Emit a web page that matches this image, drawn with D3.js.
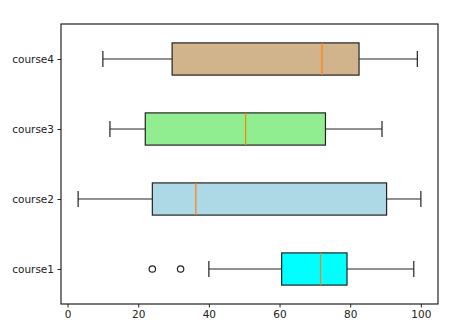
<!DOCTYPE html>
<html>
<head>
<meta charset="utf-8">
<script src="https://cdn.jsdelivr.net/npm/d3@7"></script>
<style>
  body { margin: 0; background: #fff; }
  text { font-family: "DejaVu Sans", sans-serif; }
</style>
</head>
<body>
<div id="wrapper"></div>
<script>
// data
const courses = ["course1", "course2", "course3", "course4"]
const whiskerLow = [40, 3, 12, 10]
const q1 = [60.6, 24, 22, 29.6]
const median = [71.6, 36.3, 50.4, 72]
const q3 = [79.1, 90.3, 73, 82.5]
const whiskerHigh = [98, 100, 89, 99]
const outliers = [[24, 32], [], [], []]
const boxColors = ["#00ffff", "#add8e6", "#90ee90", "#d2b48c"]
const xTicks = [0, 20, 40, 60, 80, 100]

const dataset = courses.map((name, i) => ({
  name,
  lo: whiskerLow[i],
  q1: q1[i],
  med: median[i],
  q3: q3[i],
  hi: whiskerHigh[i],
  fliers: outliers[i],
  color: boxColors[i],
}))

const dimensions = {
  width: 474,
  height: 336,
  margin: { top: 24, right: 36, bottom: 32, left: 61 },
}
dimensions.boundedWidth =
  dimensions.width - dimensions.margin.left - dimensions.margin.right
dimensions.boundedHeight =
  dimensions.height - dimensions.margin.top - dimensions.margin.bottom

const wrapper = d3
  .select("#wrapper")
  .append("svg")
  .attr("width", dimensions.width)
  .attr("height", dimensions.height)
const bounds = wrapper
  .append("g")
  .attr("transform", `translate(${dimensions.margin.left},${dimensions.margin.top})`)

// scales
const xScale = d3
  .scaleLinear()
  .domain([-1.85, 104.85])
  .range([0, dimensions.boundedWidth])
const yScale = d3
  .scaleLinear()
  .domain([0.5, 4.5])
  .range([dimensions.boundedHeight, 0])
const yPos = d => yScale(courses.indexOf(d.name) + 1)
const boxH = yScale(0) - yScale(0.46)

// boxes
const stroke = "#222"
const lw = 1.2
const groups = bounds
  .selectAll("g.box")
  .data(dataset)
  .join("g")
  .attr("class", "box")

groups
  .append("line")
  .attr("x1", d => xScale(d.lo))
  .attr("x2", d => xScale(d.q1))
  .attr("y1", yPos)
  .attr("y2", yPos)
  .attr("stroke", stroke)
  .attr("stroke-width", lw)
groups
  .append("line")
  .attr("x1", d => xScale(d.q3))
  .attr("x2", d => xScale(d.hi))
  .attr("y1", yPos)
  .attr("y2", yPos)
  .attr("stroke", stroke)
  .attr("stroke-width", lw)
// caps
groups
  .selectAll("line.cap")
  .data(d => [d.lo, d.hi].map(v => ({ v, y: yPos(d) })))
  .join("line")
  .attr("class", "cap")
  .attr("x1", d => xScale(d.v))
  .attr("x2", d => xScale(d.v))
  .attr("y1", d => d.y - boxH / 4)
  .attr("y2", d => d.y + boxH / 4)
  .attr("stroke", stroke)
  .attr("stroke-width", lw)

groups
  .append("rect")
  .attr("x", d => xScale(d.q1))
  .attr("width", d => xScale(d.q3) - xScale(d.q1))
  .attr("y", d => yPos(d) - boxH / 2)
  .attr("height", boxH)
  .attr("fill", d => d.color)
  .attr("stroke", stroke)
  .attr("stroke-width", lw)

groups
  .append("line")
  .attr("x1", d => xScale(d.med))
  .attr("x2", d => xScale(d.med))
  .attr("y1", d => yPos(d) - boxH / 2)
  .attr("y2", d => yPos(d) + boxH / 2)
  .attr("stroke", "#ff7f0e")
  .attr("stroke-width", lw)

groups
  .selectAll("circle")
  .data(d => d.fliers.map(v => ({ v, y: yPos(d) })))
  .join("circle")
  .attr("cx", d => xScale(d.v))
  .attr("cy", d => d.y)
  .attr("r", 3.2)
  .attr("fill", "none")
  .attr("stroke", stroke)
  .attr("stroke-width", lw)

// axes
const xAxis = bounds
  .append("g")
  .attr("transform", `translate(0,${dimensions.boundedHeight})`)
  .call(d3.axisBottom(xScale).tickValues(xTicks).tickSize(3.5).tickPadding(3))
const yAxis = bounds
  .append("g")
  .call(
    d3.axisLeft(yScale)
      .tickValues([1, 2, 3, 4])
      .tickFormat(d => courses[d - 1])
      .tickSize(3.5)
      .tickPadding(3.5)
  )
;[xAxis, yAxis].forEach(a => {
  a.selectAll("text").attr("font-size", 10.5).attr("fill", "#222")
  a.selectAll("line").attr("stroke", "#222")
  a.select(".domain").remove()
})

// frame
bounds
  .append("rect")
  .attr("width", dimensions.boundedWidth)
  .attr("height", dimensions.boundedHeight)
  .attr("fill", "none")
  .attr("stroke", "#222")
  .attr("stroke-width", lw)
</script>
</body>
</html>
